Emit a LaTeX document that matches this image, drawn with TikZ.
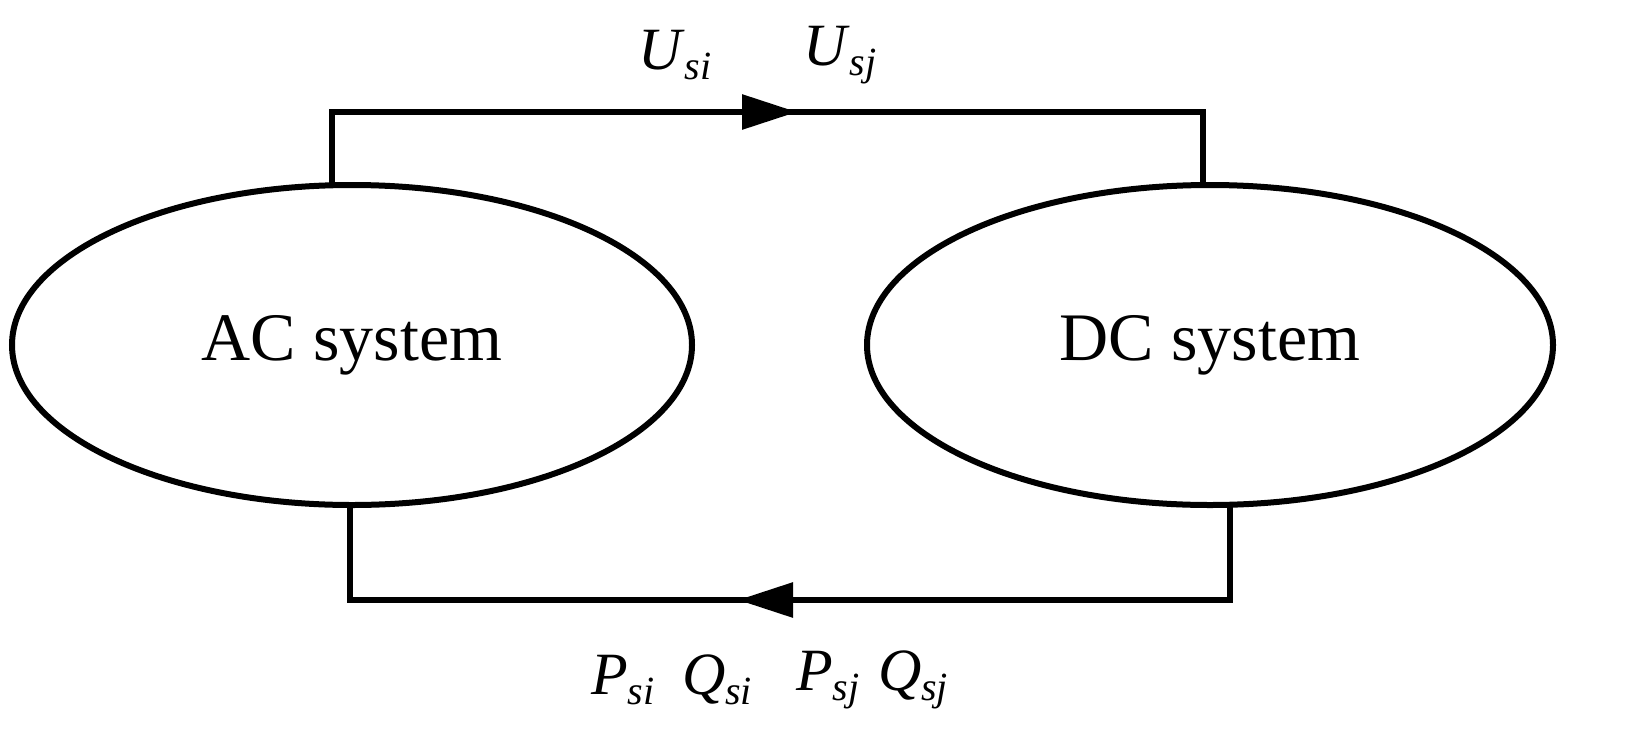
\documentclass[tikz,border=0pt]{standalone}
\usepackage{fontspec}
\setmainfont{Liberation Serif}
\usetikzlibrary{arrows.meta,shapes.geometric}
\newcommand{\sbs}[2]{\textit{#1}\raisebox{-0.35ex}{\fontsize{40}{40}\selectfont\textit{#2}}}
\begin{document}
\begin{tikzpicture}[x=1pt,y=-1pt,line width=6pt,
  sys/.style={draw,ellipse,inner sep=0pt,minimum width=680pt,minimum height=320pt,font=\fontsize{68}{68}\selectfont},
  lbl/.style={font=\fontsize{60}{60}\selectfont,inner sep=0pt},
  tip/.style={-{Triangle[length=55pt,width=34pt]}}]
\useasboundingbox (0,0) rectangle (1635,742);
\node[sys] (ac) at (352,345) {AC system};
\node[sys,minimum width=686pt] (dc) at (1210,345) {DC system};
\coordinate (a1) at (332,187); \coordinate (a2) at (332,112);
\coordinate (am) at (797,112);
\coordinate (a3) at (1203,112); \coordinate (a4) at (1203,187);
\draw[line join=miter] (a1) -- (a2) -- (am);
\draw[tip] (a2) -- (am);
\draw[line join=miter] (am) -- (a3) -- (a4);
\coordinate (b1) at (1230,507); \coordinate (b2) at (1230,600);
\coordinate (bm) at (738,600);
\coordinate (b3) at (350,600); \coordinate (b4) at (350,507);
\draw[line join=miter] (b1) -- (b2) -- (bm);
\draw[tip] (b2) -- (bm);
\draw[line join=miter] (bm) -- (b3) -- (b4);
\node[lbl] (u1) at (675,55) {\sbs{U}{si}};
\node[lbl] (u2) at (840,55) {\sbs{U}{sj}};
\node[lbl] (p1) at (623,680) {\sbs{P}{si}};
\node[lbl] (q1) at (717,680) {\sbs{Q}{si}};
\node[lbl] (p2) at (828,680) {\sbs{P}{sj}};
\node[lbl] (q2) at (913,680) {\sbs{Q}{sj}};
\end{tikzpicture}
\end{document}
